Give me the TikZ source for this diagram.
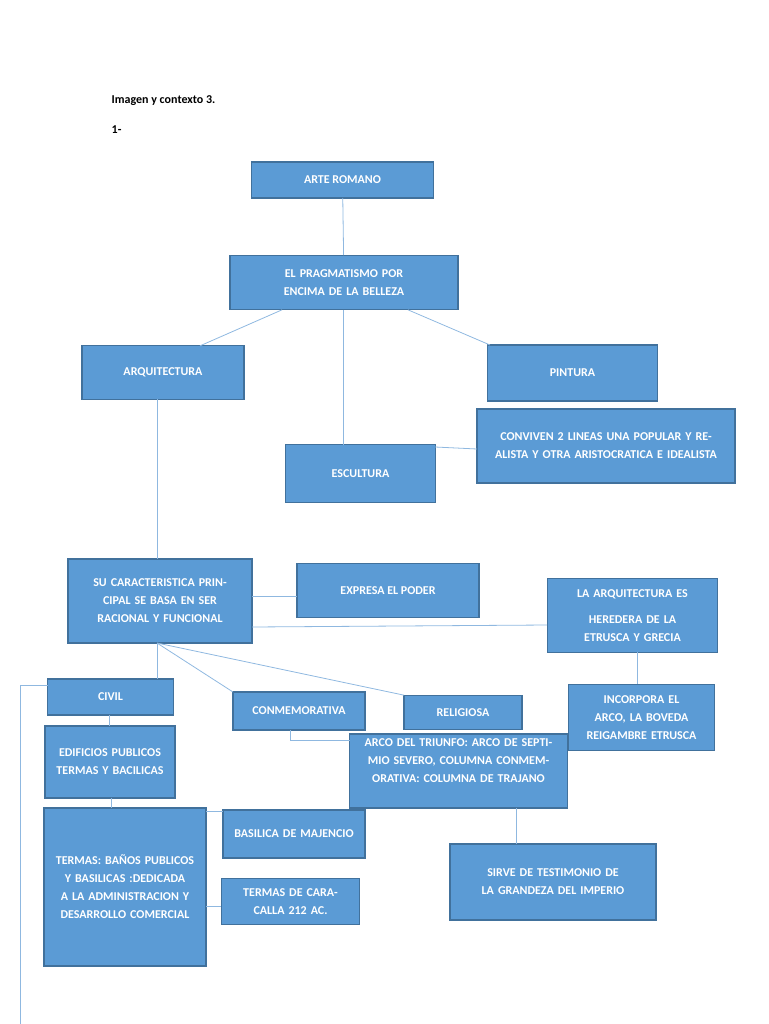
\documentclass[tikz,border=0pt]{standalone}
\usepackage{fontspec}
\setmainfont{Carlito}
\usetikzlibrary{positioning}
\definecolor{boxfill}{HTML}{5B9BD5}
\definecolor{boxline}{HTML}{41719C}
\definecolor{linkcol}{HTML}{8FB8E0}
\begin{document}
\begin{tikzpicture}
  [
    x=0.75pt, y=-0.75pt,
    box/.style =
      {draw=boxline, fill=boxfill, text=white, font=\fontsize{9}{13.5}\selectfont\bfseries,
       align=center, inner sep=2pt, outer sep=0pt, line width=0.8pt},
    link/.style={draw=linkcol, line width=0.6pt}
  ]
  \useasboundingbox (0,0) rectangle (768,1024);

  \node [anchor=west, font=\fontsize{9}{11}\selectfont\bfseries] (tit) at (107,101) {Imagen y contexto 3.};
  \node [anchor=west, font=\fontsize{9}{11}\selectfont\bfseries] (num) at (107,130) {1-};

  % boxes (corner to corner)
  \node [box, minimum width=136pt, minimum height=27pt] (arte) at (342.5,180) {ARTE ROMANO};
  \node [box, minimum width=171pt, minimum height=41pt, text width=165pt] (prag) at (344,282.5) {EL PRAGMATISMO POR ENCIMA DE LA BELLEZA};
  \node [box, minimum width=121.5pt, minimum height=40pt] (arq) at (163,372.5) {ARQUITECTURA};
  \node [box, minimum width=127pt, minimum height=42pt] (pint) at (572.5,373) {PINTURA};
  \node [box, minimum width=193.5pt, minimum height=55.5pt, text width=180pt] (conv) at (606,446) {CONVIVEN 2 LINEAS UNA POPULAR Y REALISTA Y OTRA ARISTOCRATICA E IDEALISTA};
  \node [box, minimum width=112pt, minimum height=43pt] (escu) at (360.5,473.5) {ESCULTURA};
  \node [box, minimum width=138pt, minimum height=63pt, text width=128pt] (carac) at (160,601) {SU CARACTERISTICA PRINCIPAL SE BASA EN SER RACIONAL Y FUNCIONAL};
  \node [box, minimum width=136.5pt, minimum height=41pt] (poder) at (388,590.5) {EXPRESA EL PODER};
  \node [box, minimum width=128pt, minimum height=55pt, text width=120pt] (etru) at (632.5,615.5) {LA ARQUITECTURA ES\\[6pt] HEREDERA DE LA ETRUSCA Y GRECIA};
  \node [box, minimum width=109pt, minimum height=50pt, text width=104pt] (arco) at (641.5,717.5) {INCORPORA EL ARCO, LA BOVEDA REIGAMBRE ETRUSCA};
  \node [box, minimum width=94pt, minimum height=27pt] (civil) at (110.5,697) {CIVIL};
  \node [box, minimum width=99pt, minimum height=28.5pt] (conm) at (299,711) {CONMEMORATIVA};
  \node [box, minimum width=88.5pt, minimum height=26pt] (reli) at (463,712.5) {RELIGIOSA};
  \node [box, minimum width=97.5pt, minimum height=54pt, text width=90pt] (edif) at (110,762) {EDIFICIOS PUBLICOS TERMAS Y BACILICAS};
  \node [box, minimum width=163pt, minimum height=55.5pt] (triun) at (458.5,771) {};
  \begin{scope}
    \clip (350,734) rectangle (567,806);
    \node [box, draw=none, fill=none, text width=150pt, anchor=north] (triuntxt) at (458.5,736) {ARCO DEL TRIUNFO: ARCO DE SEPTIMIO SEVERO, COLUMNA CONMEMORATIVA: COLUMNA DE TRAJANO};
  \end{scope}
  \node [box, minimum width=106.5pt, minimum height=36pt, text width=95pt] (maje) at (294,834) {BASILICA DE MAJENCIO};
  \node [box, minimum width=121.5pt, minimum height=118.5pt, text width=116pt] (termas) at (125,887) {TERMAS: BAÑOS PUBLICOS Y BASILICAS :DEDICADA A LA ADMINISTRACION Y DESARROLLO COMERCIAL\\[14pt]};
  \node [box, minimum width=104pt, minimum height=35pt, text width=100pt] (cara) at (290.5,901.5) {TERMAS DE CARACALLA 212 AC.};
  \node [box, minimum width=154.5pt, minimum height=57pt, text width=145pt] (sirve) at (553,882) {SIRVE DE TESTIMONIO DE LA GRANDEZA DEL IMPERIO};

  % connectors
  \draw [link] (arte) -- (prag);
  \draw [link] (prag.south -| 282,0) -- (arq.north -| 200,0);
  \draw [link] (prag.south -| 343,0) -- (escu.north -| 343,0);
  \draw [link] (prag.south -| 408,0) -- (pint.north -| 490,0);
  \draw [link] (escu.east |- 0,447) -- (conv.west |- 0,449);
  \draw [link] (arq.south -| 157,0) -- (carac.north -| 157,0);
  \draw [link] (carac.east |- 0,596) -- (poder.west |- 0,596);
  \draw [link] (carac.east |- 0,627) -- (etru.west |- 0,625);
  \draw [link] (etru.south -| 637,0) -- (arco.north -| 637,0);
  \draw [link] (carac.south -| 157,0) -- (civil.north -| 157,0);
  \draw [link] (carac.south -| 157,0) -- (conm.north west);
  \draw [link] (carac.south -| 157,0) -- (reli.north west);
  \coordinate (edge) at (20,1024);
  \draw [link] (civil.west |- 0,685) -| (edge);
  \draw [link] (civil.south -| 109,0) -- (edif.north -| 109,0);
  \draw [link] (conm.south -| 290,0) |- (triun.west |- 0,740);
  \draw [link] (edif.south -| 111,0) -- (termas.north -| 111,0);
  \draw [link] (termas.east |- 0,811) -- (maje.west |- 0,811);
  \draw [link] (termas.east |- 0,906) -- (cara.west |- 0,906);
  \draw [link] (triun.south -| 516,0) -- (sirve.north -| 516,0);
\end{tikzpicture}
\end{document}
